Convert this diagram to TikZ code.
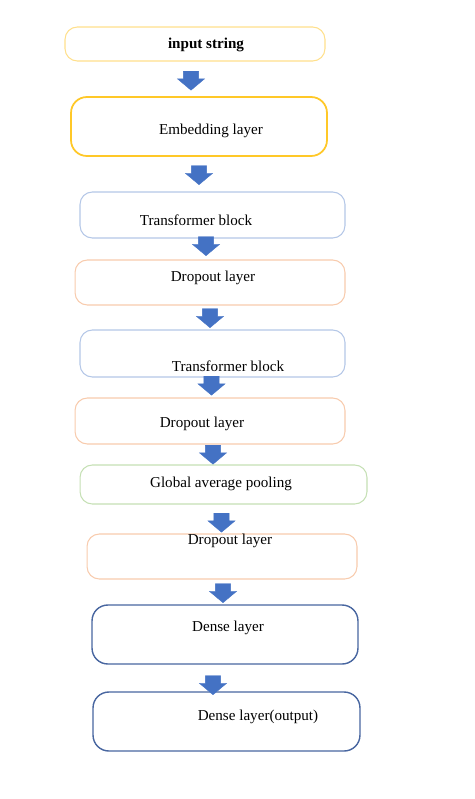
\documentclass[tikz,border=0pt]{standalone}
\usepackage{fontspec}
\setmainfont{Liberation Serif}
\usepackage{xcolor}
\usetikzlibrary{shapes.arrows}
\definecolor{gelbhell}{RGB}{255,224,140}
\definecolor{gelb}{RGB}{255,200,40}
\definecolor{blauhell}{RGB}{180,199,231}
\definecolor{orangehell}{RGB}{248,203,173}
\definecolor{gruenhell}{RGB}{197,224,180}
\definecolor{blaudunkel}{RGB}{72,102,160}
\definecolor{pfeilblau}{RGB}{68,114,196}
\tikzset{
    %Define style for boxes
    kasten/.style={
           rectangle,
           rounded corners=7pt,
           draw, line width=0.6pt,
           fill=white,
           inner sep=0pt},
    % Define style for labels
    schrift/.style={
           font=\fontsize{8.6}{10}\selectfont,
           inner sep=0pt},
    % Define block arrow style
    pfeil/.style={
           single arrow,
           rotate=-90,
           fill=pfeilblau,
           draw=pfeilblau, line width=0.2pt,
           inner xsep=0pt, inner ysep=0.15cm,
           minimum height=0.38cm,
           single arrow head extend=0.12cm,
           single arrow tip angle=100}
}
\begin{document}
\begin{tikzpicture}[x=0.02cm, y=-0.02cm]
 \useasboundingbox (0,0) rectangle (474,799);
 %boxes
 \node[kasten, draw=gelbhell, minimum width=5.2cm, minimum height=0.68cm] (input) at (195,44) {};
 \node[kasten, draw=gelb, line width=1pt, rounded corners=9pt, minimum width=5.12cm, minimum height=1.18cm] (embed) at (199,126.5) {};
 \node[kasten, draw=blauhell, minimum width=5.3cm, minimum height=0.92cm] (trafoA) at (212.5,215) {};
 \node[kasten, draw=orangehell, minimum width=5.4cm, minimum height=0.9cm] (dropA) at (210,282.5) {};
 \node[kasten, draw=blauhell, minimum width=5.3cm, minimum height=0.94cm] (trafoB) at (212.5,353.5) {};
 \node[kasten, draw=orangehell, minimum width=5.4cm, minimum height=0.92cm] (dropB) at (210,421) {};
 \node[kasten, draw=gruenhell, minimum width=5.74cm, minimum height=0.78cm] (pool) at (223.5,484.5) {};
 \node[kasten, draw=orangehell, minimum width=5.4cm, minimum height=0.9cm] (dropC) at (222,556.5) {};
 \node[kasten, draw=blaudunkel, line width=0.8pt, rounded corners=9pt, minimum width=5.32cm, minimum height=1.18cm] (dense) at (225,634.5) {};
 \node[kasten, draw=blaudunkel, line width=0.8pt, rounded corners=9pt, minimum width=5.34cm, minimum height=1.18cm] (output) at (226.5,721.5) {};
 %labels
 \node[schrift, font=\fontsize{8.6}{10}\selectfont\bfseries] (tinput) at (206,45) {input string};
 \node[schrift] (tembed) at (211,131) {Embedding layer};
 \node[schrift] (ttrafoA) at (196,220) {Transformer block};
 \node[schrift] (tdropA) at (213,278) {Dropout layer};
 \node[schrift] (ttrafoB) at (228,366) {Transformer block};
 \node[schrift] (tdropB) at (202,424) {Dropout layer};
 \node[schrift] (tpool) at (221,484) {Global average pooling};
 \node[schrift] (tdropC) at (230,541) {Dropout layer};
 \node[schrift] (tdense) at (228,628) {Dense layer};
 \node[schrift] (toutput) at (258,717) {Dense layer(output)};
 %block arrows between the boxes
 \node[pfeil] (p1) at (191,77.5) {};
 \node[pfeil] (p2) at (199,172) {};
 \node[pfeil] (p3) at (206,243) {};
 \node[pfeil] (p4) at (210,315) {};
 \node[pfeil] (p5) at (211.5,382.5) {};
 \node[pfeil] (p6) at (213,451.5) {};
 \node[pfeil] (p7) at (221.5,519.5) {};
 \node[pfeil] (p8) at (223,590) {};
 \node[pfeil] (p9) at (213,682) {};
\end{tikzpicture}
\end{document}
